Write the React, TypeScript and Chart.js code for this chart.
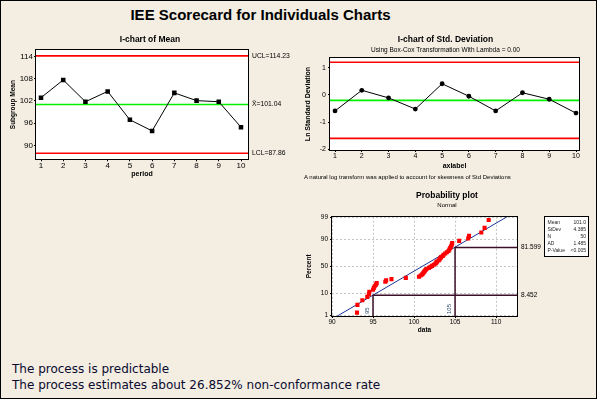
import React, { useEffect, useRef } from "react";
import { Chart, registerables } from "chart.js";

Chart.register(...registerables);

const FONT = "'Liberation Sans', Arial, Helvetica, sans-serif";
const BG = "#F3EDE2";
const RED = "#FF0000";
const GREEN = "#00F000";

// ---------------- texts ----------------
const mainTitle = "IEE Scorecard for Individuals Charts";
const summaryLines = [
  "The process is predictable",
  "The process estimates about 26.852% non-conformance rate",
];
const sdFootnote = "A natural log transform was applied to account for skewness of Std Deviations";

// ---------------- I-chart of Mean ----------------
const periods = [1, 2, 3, 4, 5, 6, 7, 8, 9, 10];
const subgroupMeans = [102.9, 107.7, 101.8, 104.6, 96.9, 93.9, 104.2, 102.1, 101.8, 94.9];
const meanTicks = [90, 96, 102, 108, 114];
const MEAN_UCL = 114.23;
const MEAN_CENTER = 101.04;
const MEAN_LCL = 87.86;

// ---------------- I-chart of Std. Deviation ----------------
const lnStdDevs = [-0.59, 0.17, -0.11, -0.52, 0.41, -0.05, -0.59, 0.08, -0.16, -0.67];
const sdTicks = [-2, -1, 0, 1];
const SD_UCL = 1.2;
const SD_CENTER = -0.2;
const SD_LCL = -1.6;

// ---------------- Probability plot ----------------
const probData = [
  93.05, 93.1, 93.7, 94.3, 94.5, 94.55, 95.0, 95.1, 95.2, 95.35,
  95.45, 96.5, 96.6, 97.25, 99.0, 100.6, 100.8, 101.0, 101.1, 101.2,
  101.3, 101.4, 101.5, 101.8, 102.0, 102.2, 102.4, 102.6, 102.7, 102.8,
  103.0, 103.1, 103.2, 103.3, 103.5, 103.6, 103.8, 104.0, 104.2, 104.3,
  104.4, 104.5, 104.6, 104.65, 105.5, 106.6, 106.7, 108.2, 108.6, 109.1,
];
const probPercents = [
  1.39, 3.37, 5.36, 7.34, 9.33, 11.31, 13.29, 15.28, 17.26, 19.25,
  21.23, 23.21, 25.2, 27.18, 29.17, 31.15, 33.13, 35.12, 37.1, 39.09,
  41.07, 43.06, 45.04, 47.02, 49.01, 50.99, 52.98, 54.96, 56.94, 58.93,
  60.91, 62.9, 64.88, 66.87, 68.85, 70.83, 72.82, 74.8, 76.79, 78.77,
  80.75, 82.74, 84.72, 86.71, 88.69, 90.67, 92.66, 94.64, 96.63, 98.61,
];
const probXTicks = [90, 95, 100, 105, 110];
const probPctTicks = [1, 10, 50, 90, 99];
const refValues = [95, 105];
const refPercents = [8.452, 81.599];
const FIT_MEAN = 101.0;
const FIT_SD = 4.385;
const statLabels = ["Mean", "StDev", "N", "AD", "P-Value"];
const statValues = ["101.0", "4.385", "50", "1.485", "<0.005"];

// axis ranges
const MEAN_X_MIN = 0.775, MEAN_X_MAX = 10.315, MEAN_Y_MIN = 86.21, MEAN_Y_MAX = 115.81;
const SD_X_MIN = 0.813, SD_X_MAX = 10.112, SD_Y_MIN = -2.026, SD_Y_MAX = 1.357;
const PROB_X_MIN = 90, PROB_X_MAX = 112.55, Z_MIN = -2.36, Z_MAX = 2.36;

// inverse standard normal CDF (probability axis transform)
function normInv(p: number): number {
  const a = [-39.69683028665376, 220.9460984245205, -275.9285104469687, 138.357751867269, -30.66479806614716, 2.506628277459239];
  const b = [-54.47609879822406, 161.5858368580409, -155.6989798598866, 66.80131188771972, -13.28068155288572];
  const c = [-0.007784894002430293, -0.3223964580411365, -2.400758277161838, -2.549732539343734, 4.374664141464968, 2.938163982698783];
  const d = [0.007784695709041462, 0.3224671290700398, 2.445134137142996, 3.754408661907416];
  const pl = 0.02425;
  if (p < pl) {
    const q = Math.sqrt(-2 * Math.log(p));
    return (((((c[0] * q + c[1]) * q + c[2]) * q + c[3]) * q + c[4]) * q + c[5]) / ((((d[0] * q + d[1]) * q + d[2]) * q + d[3]) * q + 1);
  }
  if (p <= 1 - pl) {
    const q = p - 0.5;
    const r = q * q;
    return ((((((a[0] * r + a[1]) * r + a[2]) * r + a[3]) * r + a[4]) * r + a[5]) * q) / (((((b[0] * r + b[1]) * r + b[2]) * r + b[3]) * r + b[4]) * r + 1);
  }
  const q = Math.sqrt(-2 * Math.log(1 - p));
  return -(((((c[0] * q + c[1]) * q + c[2]) * q + c[3]) * q + c[4]) * q + c[5]) / ((((d[0] * q + d[1]) * q + d[2]) * q + d[3]) * q + 1);
}

// ---------------- helpers ----------------
const plotFrame = {
  id: "plotFrame",
  beforeDraw(chart: any) {
    const { ctx, chartArea: a } = chart;
    ctx.save();
    ctx.fillStyle = "#FFFFFF";
    ctx.fillRect(a.left, a.top, a.right - a.left, a.bottom - a.top);
    ctx.restore();
  },
  afterDraw(chart: any) {
    const { ctx, chartArea: a } = chart;
    ctx.save();
    ctx.setLineDash([]);
    ctx.strokeStyle = "#000";
    ctx.lineWidth = 1;
    const l = Math.round(a.left) - 0.5, t = Math.round(a.top) - 0.5;
    const r = Math.round(a.right) + 0.5, b = Math.round(a.bottom) + 0.5;
    ctx.strokeRect(l, t, r - l, b - t);
    ctx.restore();
  },
};

function sideLabels(items: { text: string; value: number }[], size: number) {
  return {
    id: "sideLabels",
    afterDraw(chart: any) {
      const { ctx, chartArea } = chart;
      const ys = chart.scales.y;
      ctx.save();
      ctx.font = `${size}px ${FONT}`;
      ctx.fillStyle = "#000";
      ctx.textAlign = "left";
      ctx.textBaseline = "middle";
      for (const it of items) ctx.fillText(it.text, chartArea.right + 4, ys.getPixelForValue(it.value));
      ctx.restore();
    },
  };
}

function hline(y: number, x0: number, x1: number, color: string, width = 1.6) {
  return {
    data: [{ x: x0, y }, { x: x1, y }],
    showLine: true,
    borderColor: color,
    borderWidth: width,
    pointRadius: 0,
    xAxisID: "x",
    yAxisID: "y",
  };
}

function rightSpacer(w: number) {
  return {
    type: "linear",
    position: "right",
    display: true,
    grid: { display: false },
    border: { display: false },
    ticks: { display: false },
    afterFit: (s: any) => { s.width = w; },
  };
}

function tickAxis(opts: {
  values: number[];
  min: number;
  max: number;
  size: number;
  fontSize: number;
  title: string;
  titleSize: number;
  titlePad: any;
  horizontal: boolean;
  tickLength: number;
  padding: number;
}) {
  return {
    type: "linear",
    min: opts.min,
    max: opts.max,
    afterBuildTicks: (s: any) => { s.ticks = opts.values.map((v) => ({ value: v })); },
    afterFit: (s: any) => { if (opts.horizontal) s.height = opts.size; else s.width = opts.size; },
    grid: { display: true, drawOnChartArea: false, drawTicks: true, tickLength: opts.tickLength, color: "#000", tickColor: "#000" },
    border: { display: false },
    ticks: { autoSkip: false, maxRotation: 0, color: "#000", padding: opts.padding, font: { family: FONT, size: opts.fontSize } },
    title: { display: true, text: opts.title, color: "#000", font: { family: FONT, size: opts.titleSize, weight: "bold" }, padding: opts.titlePad },
  };
}

const baseOptions = {
  animation: false,
  responsive: false,
  devicePixelRatio: 1,
  events: [],
  layout: { padding: 0 },
};

// ---------------- configs ----------------
function meanConfig(): any {
  return {
    type: "scatter",
    data: {
      datasets: [
        {
          data: periods.map((p, i) => ({ x: p, y: subgroupMeans[i] })),
          showLine: true,
          borderColor: "#000",
          borderWidth: 1,
          pointStyle: "rect",
          pointRadius: 3.2,
          pointBackgroundColor: "#000",
          pointBorderWidth: 0,
          xAxisID: "x",
          yAxisID: "y",
        },
        hline(MEAN_UCL, MEAN_X_MIN, MEAN_X_MAX, RED),
        hline(MEAN_CENTER, MEAN_X_MIN, MEAN_X_MAX, GREEN),
        hline(MEAN_LCL, MEAN_X_MIN, MEAN_X_MAX, RED),
      ],
    },
    options: {
      ...baseOptions,
      plugins: {
        legend: { display: false },
        tooltip: { enabled: false },
        title: { display: true, text: "I-chart of Mean", color: "#000", font: { family: FONT, size: 8.5, weight: "bold" }, padding: { top: 4.9, bottom: 4.9 } },
      },
      scales: {
        x: tickAxis({ values: periods, min: MEAN_X_MIN, max: MEAN_X_MAX, size: 30.7, fontSize: 8, title: "period", titleSize: 7, titlePad: { top: 0, bottom: 11.5 }, horizontal: true, tickLength: 2, padding: 0 }),
        y: tickAxis({ values: meanTicks, min: MEAN_Y_MIN, max: MEAN_Y_MAX, size: 36, fontSize: 8, title: "Subgroup Mean", titleSize: 6.5, titlePad: { top: 9.4, bottom: 0 }, horizontal: false, tickLength: 2, padding: 1 }),
        yR: rightSpacer(52),
      },
    },
    plugins: [
      plotFrame,
      sideLabels(
        [
          { text: `UCL=${MEAN_UCL.toFixed(2)}`, value: MEAN_UCL },
          { text: `X\u0304=${MEAN_CENTER.toFixed(2)}`, value: MEAN_CENTER },
          { text: `LCL=${MEAN_LCL.toFixed(2)}`, value: MEAN_LCL },
        ],
        6.8
      ),
    ],
  };
}

function sdConfig(): any {
  return {
    type: "scatter",
    data: {
      datasets: [
        {
          data: periods.map((p, i) => ({ x: p, y: lnStdDevs[i] })),
          showLine: true,
          borderColor: "#000",
          borderWidth: 1,
          pointStyle: "circle",
          pointRadius: 2.4,
          pointBackgroundColor: "#000",
          pointBorderWidth: 0,
          xAxisID: "x",
          yAxisID: "y",
        },
        hline(SD_UCL, SD_X_MIN, SD_X_MAX, RED),
        hline(SD_CENTER, SD_X_MIN, SD_X_MAX, GREEN),
        hline(SD_LCL, SD_X_MIN, SD_X_MAX, RED),
      ],
    },
    options: {
      ...baseOptions,
      plugins: {
        legend: { display: false },
        tooltip: { enabled: false },
        title: { display: true, text: "I-chart of Std. Deviation", color: "#000", font: { family: FONT, size: 8.5, weight: "bold" }, padding: { top: 4.9, bottom: 0 } },
        subtitle: { display: true, text: "Using Box-Cox Transformation With Lambda = 0.00", color: "#000", font: { family: FONT, size: 6.5 }, padding: { top: 1, bottom: 4.1 } },
      },
      scales: {
        x: tickAxis({ values: periods, min: SD_X_MIN, max: SD_X_MAX, size: 40, fontSize: 7, title: "axlabel", titleSize: 7, titlePad: { top: 0, bottom: 19.8 }, horizontal: true, tickLength: 2, padding: 0 }),
        y: tickAxis({ values: sdTicks, min: SD_Y_MIN, max: SD_Y_MAX, size: 30, fontSize: 7, title: "Ln Standard Deviation", titleSize: 7, titlePad: { top: 4.1, bottom: 0 }, horizontal: false, tickLength: 2, padding: 2 }),
        yR: rightSpacer(12),
      },
    },
    plugins: [plotFrame],
  };
}

function probConfig(): any {
  const refLines = refValues.map((v, k) => {
    const z = normInv(refPercents[k] / 100);
    return {
      data: [{ x: v, y: Z_MIN }, { x: v, y: z }, { x: PROB_X_MAX, y: z }],
      showLine: true,
      borderColor: "#3B1026",
      borderWidth: 1.5,
      pointRadius: 0,
      xAxisID: "x",
      yAxisID: "y",
    };
  });
  const annotations = {
    id: "probAnnotations",
    afterDraw(chart: any) {
      const { ctx, chartArea } = chart;
      const xs = chart.scales.x;
      const ys = chart.scales.y;
      ctx.save();
      ctx.font = `6.5px ${FONT}`;
      ctx.fillStyle = "#000";
      ctx.textAlign = "left";
      ctx.textBaseline = "middle";
      refPercents.forEach((p) => ctx.fillText(String(p), chartArea.right + 4, ys.getPixelForValue(normInv(p / 100))));
      ctx.fillStyle = "#2E4C6E";
      ctx.font = `6px ${FONT}`;
      refValues.forEach((v) => {
        ctx.save();
        ctx.translate(xs.getPixelForValue(v) - 6, chartArea.bottom - 2);
        ctx.rotate(-Math.PI / 2);
        ctx.textAlign = "left";
        ctx.textBaseline = "middle";
        ctx.fillText(String(v), 0, 0);
        ctx.restore();
      });
      const bx = Math.round(chartArea.right) + 27.5;
      const by = Math.round(chartArea.top) - 0.5;
      const bw = 44, bh = 40;
      ctx.fillStyle = "#FFFFFF";
      ctx.fillRect(bx, by, bw, bh);
      ctx.strokeStyle = "#000";
      ctx.lineWidth = 1;
      ctx.setLineDash([]);
      ctx.strokeRect(bx, by, bw, bh);
      ctx.font = `5px ${FONT}`;
      ctx.fillStyle = "#222";
      ctx.textBaseline = "middle";
      statLabels.forEach((lab, i) => {
        const y = by + 5.8 + i * 7.2;
        ctx.textAlign = "left";
        ctx.fillText(lab, bx + 3, y);
        ctx.textAlign = "right";
        ctx.fillText(statValues[i], bx + bw - 2.5, y);
      });
      ctx.restore();
    },
  };
  return {
    type: "scatter",
    data: {
      datasets: [
        {
          data: probData.map((x, i) => ({ x, y: normInv(probPercents[i] / 100) })),
          showLine: false,
          pointStyle: "rect",
          pointRadius: 2.9,
          pointBackgroundColor: RED,
          pointBorderWidth: 0,
          xAxisID: "x",
          yAxisID: "y",
        },
        ...refLines,
        {
          data: [
            { x: FIT_MEAN + FIT_SD * Z_MIN, y: Z_MIN },
            { x: FIT_MEAN + FIT_SD * Z_MAX, y: Z_MAX },
          ],
          showLine: true,
          borderColor: "#1A3694",
          borderWidth: 1,
          pointRadius: 0,
          xAxisID: "x",
          yAxisID: "y",
        },
      ],
    },
    options: {
      ...baseOptions,
      plugins: {
        legend: { display: false },
        tooltip: { enabled: false },
        title: { display: true, text: "Probability plot", color: "#000", font: { family: FONT, size: 8.5, weight: "bold" }, padding: { top: 5.9, bottom: 0 } },
        subtitle: { display: true, text: "Normal", color: "#000", font: { family: FONT, size: 6 }, padding: { top: 0.3, bottom: 8.1 } },
      },
      scales: {
        x: {
          type: "linear",
          min: PROB_X_MIN,
          max: PROB_X_MAX,
          afterBuildTicks: (s: any) => { s.ticks = probXTicks.map((v) => ({ value: v })); },
          afterFit: (s: any) => { s.height = 19; },
          grid: { display: true, drawOnChartArea: true, drawTicks: true, tickLength: 2, color: "#C4C4C4", tickColor: "#000" },
          border: { display: false, dash: [2, 2] },
          ticks: { autoSkip: false, maxRotation: 0, color: "#000", padding: 0, font: { family: FONT, size: 6.5 } },
          title: { display: true, text: "data", color: "#000", font: { family: FONT, size: 6.5, weight: "bold" }, padding: { top: 0, bottom: 1.1 } },
        },
        y: {
          type: "linear",
          min: Z_MIN,
          max: Z_MAX,
          afterBuildTicks: (s: any) => { s.ticks = probPctTicks.map((p) => ({ value: normInv(p / 100) })); },
          afterFit: (s: any) => { s.width = 32; },
          grid: { display: true, drawOnChartArea: true, drawTicks: true, tickLength: 2, color: "#C4C4C4", tickColor: "#000" },
          border: { display: false, dash: [2, 2] },
          ticks: {
            autoSkip: false,
            color: "#000",
            padding: 2,
            font: { family: FONT, size: 6.5 },
            callback: (_v: any, i: number) => String(probPctTicks[i]),
          },
          title: { display: true, text: "Percent", color: "#000", font: { family: FONT, size: 6.5, weight: "bold" }, padding: { top: 5.4, bottom: 0 } },
        },
        yR: rightSpacer(77),
      },
    },
    plugins: [plotFrame, annotations],
  };
}

// ---------------- components ----------------
function ChartCanvas(props: { left: number; top: number; width: number; height: number; build: () => any }) {
  const ref = useRef<HTMLCanvasElement>(null);
  useEffect(() => {
    if (!ref.current) return;
    const chart = new Chart(ref.current, props.build());
    return () => chart.destroy();
  }, []);
  return (
    <div style={{ position: "absolute", left: props.left, top: props.top, width: props.width, height: props.height }}>
      <canvas ref={ref} width={props.width} height={props.height} style={{ display: "block", width: props.width, height: props.height }} />
    </div>
  );
}

export default function App() {
  useEffect(() => {
    document.body.style.margin = "0";
  }, []);
  return (
    <div style={{ position: "relative", width: 597, height: 399, background: BG, overflow: "hidden" }}>
      <div
        style={{
          position: "absolute",
          left: 0,
          top: 6,
          width: 521,
          textAlign: "center",
          fontFamily: FONT,
          fontWeight: "bold",
          fontSize: 15,
          lineHeight: "18px",
          color: "#000",
          whiteSpace: "nowrap",
        }}
      >
        {mainTitle}
      </div>
      <ChartCanvas left={0} top={30} width={300} height={160} build={meanConfig} />
      <ChartCanvas left={300} top={30} width={291} height={160} build={sdConfig} />
      <div
        style={{
          position: "absolute",
          left: 304,
          top: 172.7,
          fontFamily: FONT,
          fontSize: 6,
          lineHeight: "8px",
          color: "#000",
          whiteSpace: "nowrap",
        }}
      >
        {sdFootnote}
      </div>
      <ChartCanvas left={300} top={185} width={294} height={150} build={probConfig} />
      <div
        style={{
          position: "absolute",
          left: 12,
          top: 361,
          fontFamily: "'DejaVu Sans', Verdana, sans-serif",
          fontSize: 12,
          lineHeight: "16px",
          color: "#0A0A30",
          whiteSpace: "nowrap",
        }}
      >
        {summaryLines.map((s, i) => (
          <div key={i}>{s}</div>
        ))}
      </div>
      <div
        style={{
          position: "absolute",
          left: 0,
          top: 0,
          width: 597,
          height: 399,
          boxSizing: "border-box",
          border: "1px solid #000",
          pointerEvents: "none",
        }}
      />
    </div>
  );
}
